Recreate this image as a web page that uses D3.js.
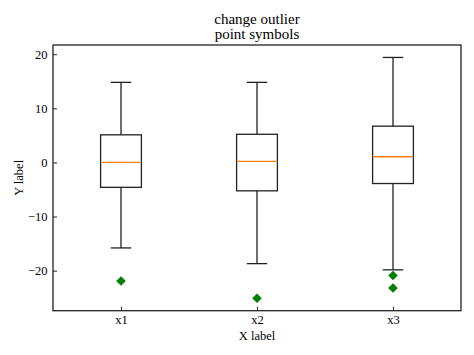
<!DOCTYPE html>
<html><head><meta charset="utf-8">
<script src="https://cdn.jsdelivr.net/npm/d3@7"></script>
<style>body{margin:0;background:#fff}text{font-family:"Liberation Serif","DejaVu Serif",serif;fill:#000}</style>
</head><body><svg id="c" width="474" height="355"></svg>
<script>
const categories = ["x1", "x2", "x3"];
const whiskerLow = [-15.8, -18.7, -19.85];
const q1 = [-4.6, -5.25, -3.9];
const medians = [0.0, 0.2, 1.05];
const q3 = [5.1, 5.2, 6.7];
const whiskerHigh = [14.8, 14.8, 19.4];
const outliers = [[-21.9], [-25.1], [-20.9, -23.2]];
const yTicks = [-20, -10, 0, 10, 20];
const titleLines = ["change outlier", "point symbols"];

const svg = d3.select("#c");
const L = 53, R = 461, T = 45, B = 310.7;
const x = d3.scaleLinear().domain([0.5, 3.5]).range([L, R]);
const y = d3.scaleLinear().domain([-27.4, 21.7]).range([B, T]);
const lw = 1.3, col = "#222";
const fs = 12.5;

const g = svg.append("g");
categories.forEach((c, i) => {
  const cx = x(i + 1);
  const hb = x(i + 1.15) - cx, hc = x(i + 1.075) - cx;
  g.append("line").attr("x1", cx).attr("x2", cx).attr("y1", y(q3[i])).attr("y2", y(whiskerHigh[i])).attr("stroke", col).attr("stroke-width", lw);
  g.append("line").attr("x1", cx).attr("x2", cx).attr("y1", y(q1[i])).attr("y2", y(whiskerLow[i])).attr("stroke", col).attr("stroke-width", lw);
  g.append("line").attr("x1", cx - hc).attr("x2", cx + hc).attr("y1", y(whiskerHigh[i])).attr("y2", y(whiskerHigh[i])).attr("stroke", col).attr("stroke-width", lw);
  g.append("line").attr("x1", cx - hc).attr("x2", cx + hc).attr("y1", y(whiskerLow[i])).attr("y2", y(whiskerLow[i])).attr("stroke", col).attr("stroke-width", lw);
  g.append("rect").attr("x", cx - hb).attr("width", 2 * hb).attr("y", y(q3[i])).attr("height", y(q1[i]) - y(q3[i])).attr("fill", "none").attr("stroke", col).attr("stroke-width", lw);
  g.append("line").attr("x1", cx - hb).attr("x2", cx + hb).attr("y1", y(medians[i])).attr("y2", y(medians[i])).attr("stroke", "#ff7f0e").attr("stroke-width", lw);
  outliers[i].forEach(v => {
    g.append("path").attr("d", d3.symbol(d3.symbolSquare, 46)()).attr("transform", `translate(${cx},${y(v)}) rotate(45)`).attr("fill", "#008000");
  });
});

// frame
svg.append("rect").attr("x", L).attr("y", T).attr("width", R - L).attr("height", B - T).attr("fill", "none").attr("stroke", col).attr("stroke-width", 1.3);

// y axis
const ya = svg.append("g").attr("transform", `translate(${L},0)`).call(d3.axisLeft(y).tickValues(yTicks).tickSizeInner(-4).tickSizeOuter(0).tickPadding(5.5).tickFormat(d3.format("d")));
ya.select(".domain").remove();
ya.selectAll("line").attr("stroke", col).attr("stroke-width", 1);
ya.selectAll("text").attr("font-size", fs).style("font-family", "Liberation Serif");

// x axis
const xa = svg.append("g").attr("transform", `translate(0,${B})`).call(d3.axisBottom(x).tickValues([1, 2, 3]).tickSizeInner(-4).tickSizeOuter(0).tickPadding(4).tickFormat((d, i) => categories[i]));
xa.select(".domain").remove();
xa.selectAll("line").attr("stroke", col).attr("stroke-width", 1);
xa.selectAll("text").attr("font-size", fs).style("font-family", "Liberation Serif");

svg.append("text").attr("x", (L + R) / 2).attr("y", 340).attr("text-anchor", "middle").attr("font-size", fs).text("X label");
svg.append("text").attr("transform", `translate(22.5,${(T + B) / 2}) rotate(-90)`).attr("text-anchor", "middle").attr("font-size", fs).text("Y label");
titleLines.forEach((t, i) => {
  svg.append("text").attr("x", (L + R) / 2).attr("y", 24.3 + i * 15).attr("text-anchor", "middle").attr("font-size", 15).text(t);
});
</script></body></html>
